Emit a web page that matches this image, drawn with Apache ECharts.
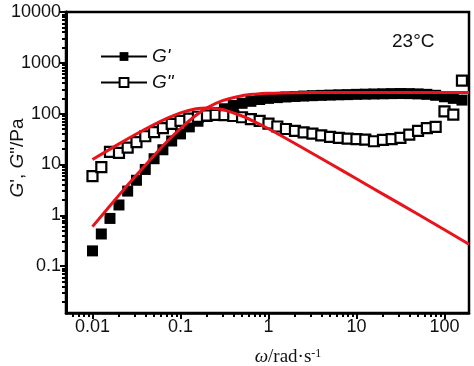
<!DOCTYPE html>
<html><head><meta charset="utf-8">
<script src="https://cdn.jsdelivr.net/npm/echarts@6/dist/echarts.min.js"></script>
<style>html,body{margin:0;padding:0;background:#fff}#c{width:474px;height:366px}</style>
</head><body><div id="c"></div>
<script>
// angular frequency (rad/s) of measured points
const omega = [0.01,0.0126,0.0158,0.02,0.0251,0.0316,0.0398,0.0501,0.0631,0.0794,
  0.1,0.126,0.158,0.2,0.251,0.316,0.398,0.501,0.631,0.794,
  1,1.26,1.58,2,2.51,3.16,3.98,5.01,6.31,7.94,
  10,12.6,15.8,20,25.1,31.6,39.8,50.1,63.1,79.4,
  100,126,158];
// storage modulus G' (Pa)
const gPrime = [0.2,0.43,0.87,1.6,3.0,4.9,8,13,19.5,29,
  40,55,71,88,105,125,145,160,175,190,
  200,207,213,218,222,226,229,232,235,237,
  240,242,244,246,248,249,248,245,240,230,
  215,200,185];
// loss modulus G'' (Pa)
const gDoublePrime = [5.9,8.9,17.8,17,21.5,27.6,36,43.5,52,63,
  72,80,87,92,95,94,90,85,78,72,
  64,56,50,46,43,40.5,37.5,35,33.3,32.3,
  31.7,31,28.7,30.5,31.7,33.3,38.7,46,52,55,
  111,96,445];
// red fitted curves
const fitOmega = [0.01,0.02,0.03,0.05,0.07,0.1,0.15,0.2,0.3,0.5,0.7,1,2,5,10,20,50,100,190];
const fitGPrime = [0.6,2.5,5.6,15,28,51,93,130,180,226,242,252,259,261.5,262,262,262,262,262];
const fitGDoublePrime = [12.5,25.5,38,61,81,104,125,130,121,90,69,50.4,25.9,10.5,5.24,2.62,1.05,0.52,0.27];

const xMajorTicks = [0.01,0.1,1,10,100];
const xTickLabels = ['0.01','0.1','1','10','100'];
const xMinorTicks = [0.006,0.007,0.008,0.009,0.02,0.03,0.04,0.05,0.06,0.07,0.08,0.09,
  0.2,0.3,0.4,0.5,0.6,0.7,0.8,0.9,2,3,4,5,6,7,8,9,20,30,40,50,60,70,80,90];
const yMajorTicks = [0.1,1,10,100,1000,10000];
const yTickLabels = ['0.1','1','10','100','1000','10000'];
const yMinorTicks = [0.02,0.03,0.04,0.05,0.06,0.07,0.08,0.09,0.2,0.3,0.4,0.5,0.6,0.7,0.8,0.9,
  2,3,4,5,6,7,8,9,20,30,40,50,60,70,80,90,200,300,400,500,600,700,800,900,
  2000,3000,4000,5000,6000,7000,8000,9000];

function lab(ticks, labels){
  return function(v){
    for (let i=0;i<ticks.length;i++){ if (Math.abs(Math.log10(ticks[i]/v))<1e-6) return labels[i]; }
    return '';
  };
}
const pairs = (xs, ys) => xs.map((x,i)=>[x, ys[i]]);
const FONT = 'Liberation Sans';
const XMIN=0.005, XMAX=190, YMIN=0.012, YMAX=10000;

const chart = echarts.init(document.getElementById('c'), null, {renderer:'canvas'});
chart.setOption({
  animation:false,
  backgroundColor:'#fff',
  grid:{left:66,right:5,top:12,bottom:53,show:true,borderColor:'#000',borderWidth:2.5,backgroundColor:'transparent'},
  xAxis:[
    {type:'log',logBase:10,min:XMIN,max:XMAX,position:'bottom',
     axisLine:{show:true,lineStyle:{color:'#000',width:2.5}},
     axisTick:{show:true,customValues:xMajorTicks,length:6,lineStyle:{color:'#000',width:2}},
     axisLabel:{customValues:xMajorTicks,formatter:lab(xMajorTicks,xTickLabels),fontSize:18,color:'#111',fontFamily:FONT,margin:5},
     splitLine:{show:false},minorTick:{show:false}},
    {type:'log',logBase:10,min:XMIN,max:XMAX,position:'bottom',
     axisLine:{show:false},
     axisTick:{show:true,customValues:xMinorTicks,length:4,lineStyle:{color:'#000',width:2}},
     axisLabel:{show:false},splitLine:{show:false}}
  ],
  yAxis:[
    {type:'log',logBase:10,min:YMIN,max:YMAX,position:'left',
     axisLine:{show:true,lineStyle:{color:'#000',width:3}},
     axisTick:{show:true,customValues:yMajorTicks,length:6,lineStyle:{color:'#000',width:2}},
     axisLabel:{customValues:yMajorTicks,formatter:lab(yMajorTicks,yTickLabels),fontSize:18,color:'#111',fontFamily:FONT,margin:5},
     splitLine:{show:false}},
    {type:'log',logBase:10,min:YMIN,max:YMAX,position:'left',
     axisLine:{show:false},
     axisTick:{show:true,customValues:yMinorTicks,length:4,lineStyle:{color:'#000',width:2}},
     axisLabel:{show:false},splitLine:{show:false}}
  ],
  legend:{
    data:["G'","G\""],orient:'vertical',left:95,top:42,
    itemWidth:46,itemHeight:11,itemGap:7,
    lineStyle:{color:'#000',width:2,opacity:1},
    textStyle:{fontSize:19,fontStyle:'italic',color:'#111',fontFamily:FONT},
    selectedMode:false
  },
  graphic:[
    {type:'text',left:392,top:32,style:{text:'23°C',fontSize:19,fill:'#111',fontFamily:FONT}},
    {type:'text',x:288,y:357,style:{text:'{i|ω}/rad·s{s|-1}',align:'center',verticalAlign:'middle',
      fontFamily:'Liberation Serif',fontSize:19,fill:'#111',
      rich:{i:{fontStyle:'italic',fontFamily:'Liberation Serif',fontSize:19,fill:'#111'},
            s:{fontSize:12,fontFamily:'Liberation Serif',verticalAlign:'top',fill:'#111'}}}},
    {type:'text',x:18,y:158,rotation:Math.PI/2,style:{text:"{i|G}', {i|G}\"/Pa",align:'center',verticalAlign:'middle',
      fontFamily:FONT,fontSize:19,fill:'#111',
      rich:{i:{fontStyle:'italic',fontFamily:FONT,fontSize:19,fill:'#111'}}}}
  ],
  series:[
    {name:"G'",type:'line',data:pairs(omega,gPrime),symbol:'rect',symbolSize:11,
     itemStyle:{color:'#000'},lineStyle:{opacity:0},z:2},
    {name:"G\"",type:'line',data:pairs(omega,gDoublePrime),symbol:'rect',symbolSize:10,
     itemStyle:{color:'#fff',borderColor:'#000',borderWidth:2.2},lineStyle:{opacity:0},z:3},
    {name:'fitGp',type:'line',data:pairs(fitOmega,fitGPrime),smooth:0.3,symbol:'none',
     lineStyle:{color:'#e8141b',width:3},z:4},
    {name:'fitGpp',type:'line',data:pairs(fitOmega,fitGDoublePrime),smooth:0.3,symbol:'none',
     lineStyle:{color:'#e8141b',width:3},z:4}
  ]
});
</script></body></html>
